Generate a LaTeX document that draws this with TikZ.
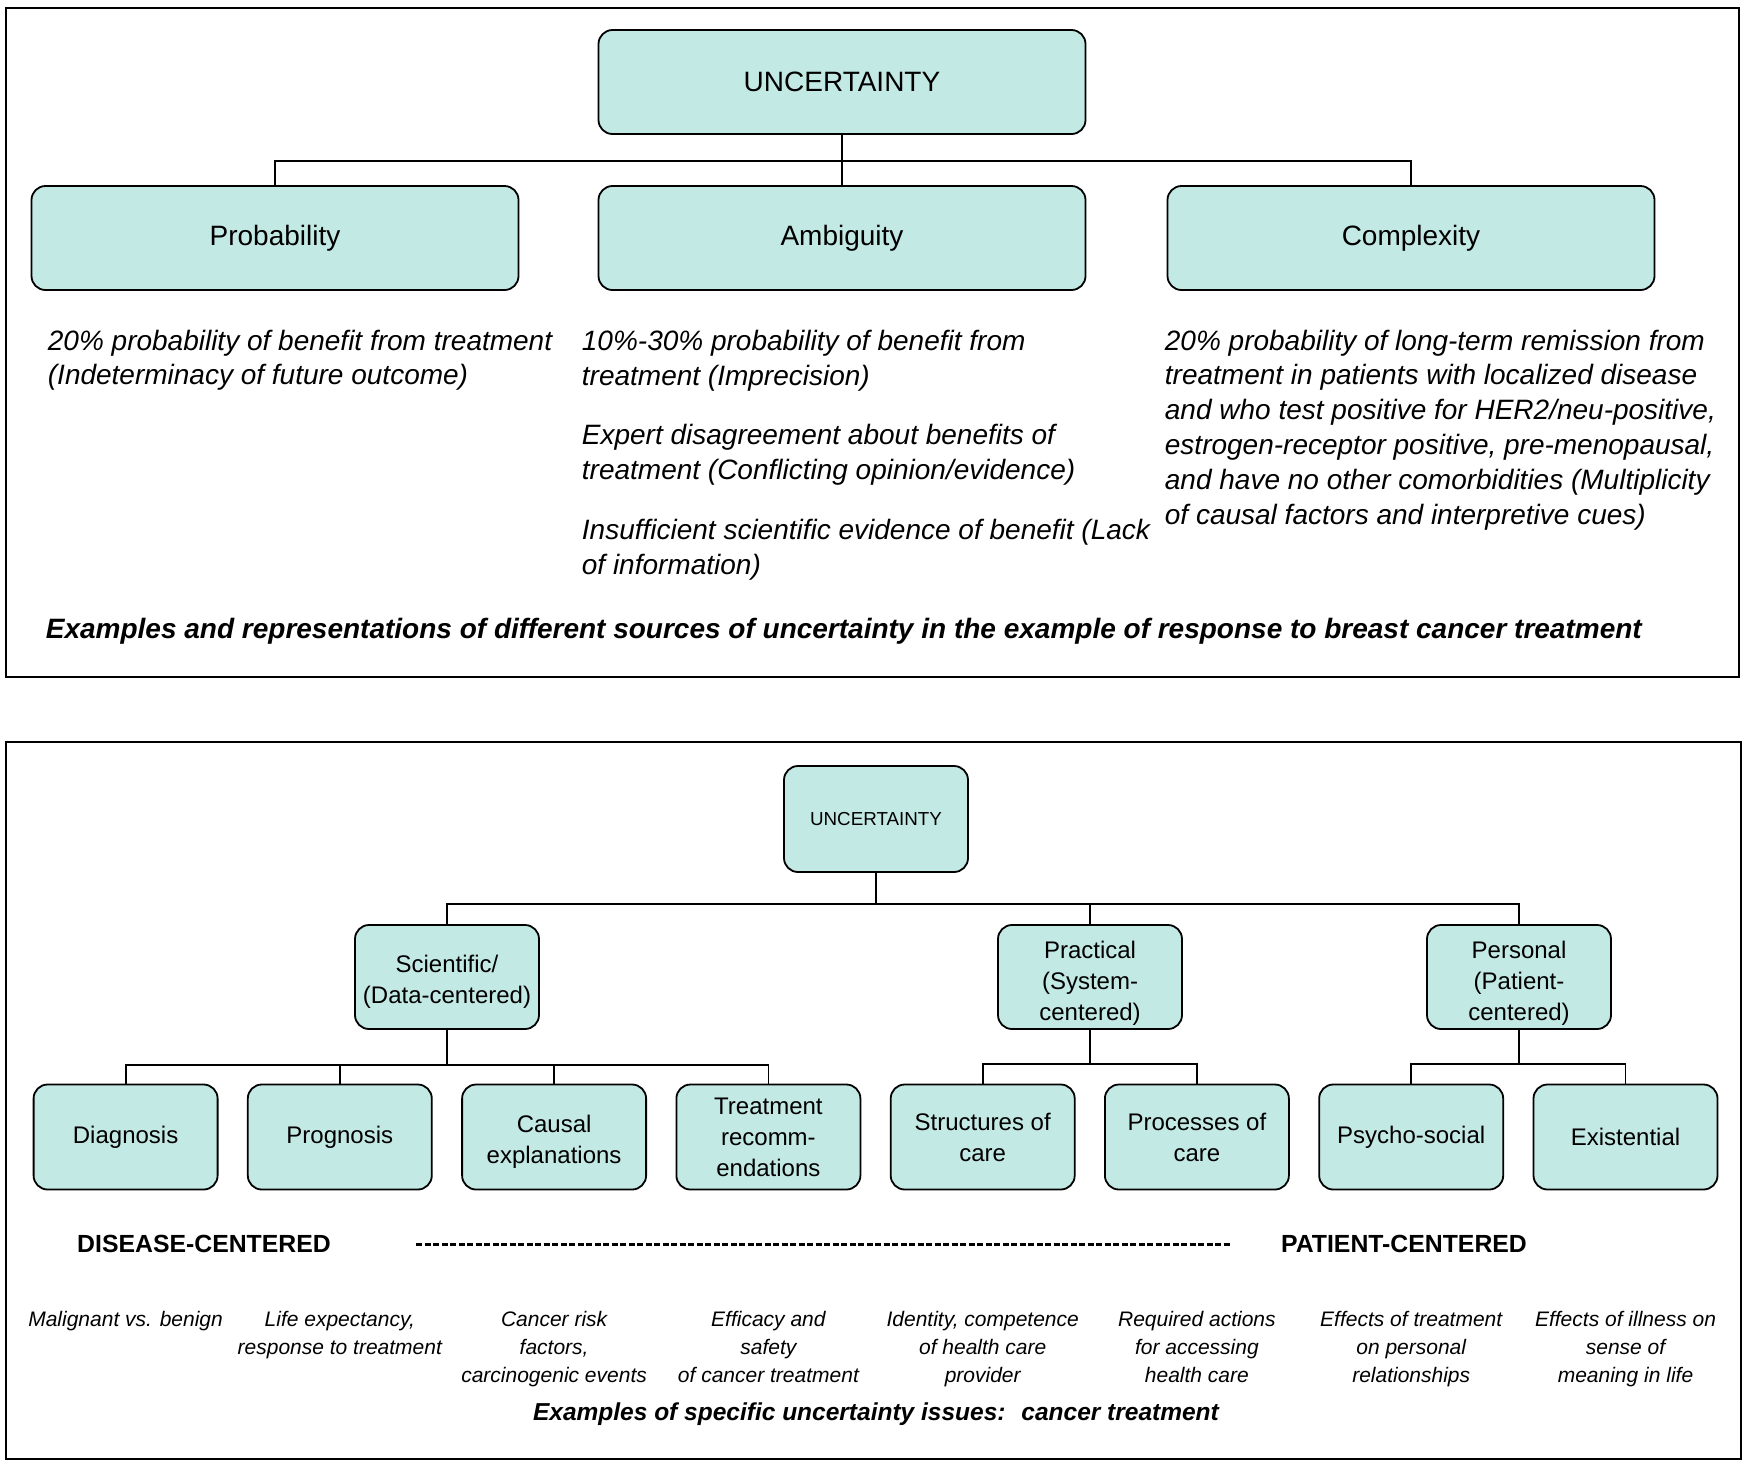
\documentclass[tikz,border=0pt]{standalone}
\usepackage{fontspec}
\setmainfont{Liberation Sans}
\usetikzlibrary{positioning}
\definecolor{boxfill}{RGB}{195,233,229}

\begin{document}
\begin{tikzpicture}[x=1pt,y=-1pt,line width=1.8pt,every node/.style={align=center},
  bigbox/.style={draw,rounded corners=14pt,fill=boxfill,minimum width=487pt,minimum height=104pt,font=\fontsize{28}{34}\selectfont},
  smallbox/.style={draw,rounded corners=14pt,fill=boxfill,minimum width=184pt,minimum height=105pt,inner sep=2pt,font=\fontsize{24}{31}\selectfont},
  toptext/.style={anchor=north west,align=left,inner sep=0pt,font=\fontsize{28}{34.8}\selectfont\itshape},
  extext/.style={anchor=north,inner sep=0pt,font=\fontsize{21}{28}\selectfont\itshape},
  sidelabel/.style={font=\fontsize{24.8}{28}\selectfont\bfseries}]
\useasboundingbox (0,0) rectangle (1750,1468);
% top panel: sources of uncertainty
\draw[line width=2.8pt] (6,8) rectangle (1739,677);
\node[bigbox] (unc) at (842,82) {UNCERTAINTY};
\node[bigbox] (prob) at (275,238) {Probability};
\node[bigbox] (amb) at (842,238) {Ambiguity};
\node[bigbox] (cplx) at (1411,238) {Complexity};
\draw (unc)--(amb);\draw (prob.north) -- ++(0,-24) -| (cplx.north);
\node[toptext] (probtxt) at (47,329) {20\% probability of benefit from treatment\\(Indeterminacy of future outcome)};
\node[toptext] (ambtxt) at (581,329) {10\%-30\% probability of benefit from\\treatment (Imprecision)\\[25pt]Expert disagreement about benefits of\\treatment (Conflicting opinion/evidence)\\[25pt]Insufficient scientific evidence of benefit (Lack\\of information)};
\node[toptext] (cplxtxt) at (1164,329) {20\% probability of long-term remission from\\treatment in patients with localized disease\\and who test positive for HER2/neu-positive,\\estrogen-receptor positive, pre-menopausal,\\and have no other comorbidities (Multiplicity\\of causal factors and interpretive cues)};
\node[anchor=west,inner sep=0pt,font=\fontsize{28}{32}\selectfont\bfseries\itshape] (topcap) at (45,631) {Examples and representations of different sources of uncertainty in the example of response to breast cancer treatment};
% bottom panel: issues of uncertainty
\draw[line width=2.8pt] (6,742) rectangle (1741,1459);
\node[smallbox,minimum height=106pt,font=\fontsize{18.8}{24}\selectfont] (unc2) at (876,819) {UNCERTAINTY};
\node[smallbox,minimum height=104pt] (sci) at (447,977) {\\[-5pt]Scientific/\\(Data-centered)};
\node[smallbox,minimum height=104pt] (prac) at (1090,977) {\\[-1pt]Practical\\(System-\\centered)};
\node[smallbox,minimum height=104pt] (pers) at (1519,977) {\\[-1pt]Personal\\(Patient-\\centered)};
\draw (unc2.south) -- ++(0,31) coordinate (hub);
\draw (sci.north) |- (hub) -| (pers.north);\draw (prac.north) -- (prac.north |- hub);
\node[smallbox] (diag) at (125.6,1137) {Diagnosis};
\node[smallbox] (prog) at (339.8,1137) {Prognosis};
\node[smallbox] (caus) at (554.1,1137) {\\[-5pt]Causal\\explanations};
\node[smallbox] (treat) at (768.4,1137) {Treatment\\recomm-\\endations};
\node[smallbox] (struc) at (982.7,1137) {Structures of\\care};
\node[smallbox] (proc) at (1196.9,1137) {Processes of\\care};
\node[smallbox] (psy) at (1411.2,1137) {Psycho-social};
\node[smallbox] (exis) at (1625.5,1137) {Existential};
\draw (sci.south) -- ++(0,35) coordinate (sbar);
\draw (diag.north) |- (sbar) -| (treat.north);\draw (prog.north) -- (prog.north |- sbar);\draw (caus.north) -- (caus.north |- sbar);
\draw (prac.south) -- ++(0,35);\draw (struc.north) -- ++(0,-20) -| (proc.north);
\draw (pers.south) -- ++(0,35);\draw (psy.north) -- ++(0,-20) -| (exis.north);
\node[sidelabel] (dis) at (204,1244) {DISEASE-CENTERED};
\node[sidelabel] (pat) at (1404,1244) {PATIENT-CENTERED};
\draw[line width=3pt,dash pattern=on 6pt off 2.5pt] ([xshift=81pt]dis.east) -- ([xshift=-45pt]pat.west);
\node[extext] (ex1) at (125.6,1310) {Malignant vs. benign};
\node[extext] (ex2) at (339.8,1310) {Life expectancy,\\response to treatment};
\node[extext] (ex3) at (554.1,1310) {Cancer risk\\factors,\\carcinogenic events};
\node[extext] (ex4) at (768.4,1310) {Efficacy and\\safety\\of cancer treatment};
\node[extext] (ex5) at (982.7,1310) {Identity, competence\\of health care\\provider};
\node[extext] (ex6) at (1196.9,1310) {Required actions\\for accessing\\health care};
\node[extext] (ex7) at (1411.2,1310) {Effects of treatment\\on personal\\relationships};
\node[extext] (ex8) at (1625.5,1310) {Effects of illness on\\sense of\\meaning in life};
\node[font=\fontsize{24.5}{28}\selectfont\bfseries\itshape] (botcap) at (876,1414) {Examples of specific uncertainty issues:~ cancer treatment};
\end{tikzpicture}
\end{document}
